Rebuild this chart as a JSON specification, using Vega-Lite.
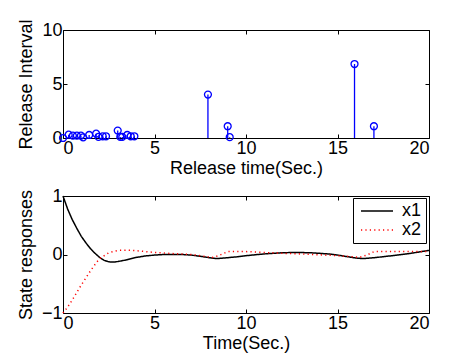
{
  "$schema": "https://vega.github.io/schema/vega-lite/v6.json",
  "background": "white",
  "padding": {"left": 16, "top": 18, "right": 5, "bottom": 2},
  "spacing": 8,
  "config": {
    "font": "Liberation Sans",
    "view": {"stroke": "black", "strokeWidth": 1},
    "axis": {
      "labelFont": "Liberation Sans", "titleFont": "Liberation Sans",
      "labelFontSize": 18, "titleFontSize": 18, "titleFontWeight": "normal",
      "labelColor": "black", "titleColor": "black",
      "domain": false, "grid": false, "tickColor": "black", "tickSize": -4,
      "labelPadding": 5, "tickWidth": 1, "labelOverlap": false
    },
    "legend": {"labelFont": "Liberation Sans", "labelFontSize": 18, "labelColor": "black"}
  },
  "datasets": {
    "rel": [
      {"t": 0, "v": 0}, {"t": 0.31, "v": 0.31}, {"t": 0.54, "v": 0.22}, {"t": 0.76, "v": 0.22},
      {"t": 0.98, "v": 0.22}, {"t": 1.1, "v": 0.06}, {"t": 1.43, "v": 0.28}, {"t": 1.81, "v": 0.4},
      {"t": 1.94, "v": 0.1}, {"t": 2.17, "v": 0.16}, {"t": 2.35, "v": 0.16}, {"t": 2.99, "v": 0.69},
      {"t": 3.13, "v": 0.1}, {"t": 3.24, "v": 0.1}, {"t": 3.51, "v": 0.28}, {"t": 3.7, "v": 0.16},
      {"t": 3.9, "v": 0.16}, {"t": 7.92, "v": 4.02}, {"t": 9.0, "v": 1.09}, {"t": 9.11, "v": 0.08},
      {"t": 15.93, "v": 6.85}, {"t": 16.99, "v": 1.09}
    ],
    "states": [
      {"t": 0, "y": 1.0, "s": "x1"}, {"t": 0.25, "y": 0.78, "s": "x1"}, {"t": 0.5, "y": 0.6, "s": "x1"},
      {"t": 0.75, "y": 0.45, "s": "x1"}, {"t": 1.0, "y": 0.31, "s": "x1"}, {"t": 1.25, "y": 0.2, "s": "x1"},
      {"t": 1.5, "y": 0.1, "s": "x1"}, {"t": 1.75, "y": 0.02, "s": "x1"}, {"t": 2.0, "y": -0.05, "s": "x1"},
      {"t": 2.25, "y": -0.1, "s": "x1"}, {"t": 2.5, "y": -0.125, "s": "x1"}, {"t": 2.75, "y": -0.13, "s": "x1"},
      {"t": 3.0, "y": -0.12, "s": "x1"}, {"t": 3.5, "y": -0.09, "s": "x1"}, {"t": 4.0, "y": -0.05, "s": "x1"},
      {"t": 4.5, "y": -0.025, "s": "x1"}, {"t": 5.0, "y": -0.01, "s": "x1"}, {"t": 5.5, "y": 0.0, "s": "x1"},
      {"t": 6.5, "y": 0.0, "s": "x1"}, {"t": 7.0, "y": -0.01, "s": "x1"}, {"t": 7.5, "y": -0.03, "s": "x1"},
      {"t": 8.0, "y": -0.055, "s": "x1"}, {"t": 8.4, "y": -0.07, "s": "x1"}, {"t": 8.8, "y": -0.06, "s": "x1"},
      {"t": 9.5, "y": -0.04, "s": "x1"}, {"t": 10, "y": -0.02, "s": "x1"}, {"t": 11, "y": 0.01, "s": "x1"},
      {"t": 12, "y": 0.03, "s": "x1"}, {"t": 12.7, "y": 0.035, "s": "x1"}, {"t": 13.5, "y": 0.03, "s": "x1"},
      {"t": 14.5, "y": 0.01, "s": "x1"}, {"t": 15.0, "y": -0.01, "s": "x1"}, {"t": 15.5, "y": -0.035, "s": "x1"},
      {"t": 16.0, "y": -0.06, "s": "x1"}, {"t": 16.4, "y": -0.07, "s": "x1"}, {"t": 17, "y": -0.055, "s": "x1"},
      {"t": 18, "y": -0.02, "s": "x1"}, {"t": 19, "y": 0.02, "s": "x1"}, {"t": 20, "y": 0.07, "s": "x1"},
      {"t": 0, "y": -1.0, "s": "x2"}, {"t": 0.25, "y": -0.9, "s": "x2"}, {"t": 0.5, "y": -0.78, "s": "x2"},
      {"t": 0.75, "y": -0.65, "s": "x2"}, {"t": 1.0, "y": -0.52, "s": "x2"}, {"t": 1.25, "y": -0.4, "s": "x2"},
      {"t": 1.5, "y": -0.28, "s": "x2"}, {"t": 1.75, "y": -0.17, "s": "x2"}, {"t": 2.0, "y": -0.07, "s": "x2"},
      {"t": 2.5, "y": 0.03, "s": "x2"}, {"t": 3.0, "y": 0.07, "s": "x2"}, {"t": 3.5, "y": 0.075, "s": "x2"},
      {"t": 4.0, "y": 0.065, "s": "x2"}, {"t": 5.0, "y": 0.035, "s": "x2"}, {"t": 6.0, "y": 0.015, "s": "x2"},
      {"t": 7.0, "y": 0.0, "s": "x2"}, {"t": 7.5, "y": -0.02, "s": "x2"}, {"t": 7.92, "y": -0.04, "s": "x2"},
      {"t": 8.2, "y": -0.05, "s": "x2"}, {"t": 8.5, "y": -0.02, "s": "x2"}, {"t": 9.0, "y": 0.05, "s": "x2"},
      {"t": 10, "y": 0.05, "s": "x2"}, {"t": 11, "y": 0.035, "s": "x2"}, {"t": 12, "y": 0.02, "s": "x2"},
      {"t": 13, "y": 0.01, "s": "x2"}, {"t": 14, "y": -0.005, "s": "x2"}, {"t": 15, "y": -0.02, "s": "x2"},
      {"t": 15.9, "y": -0.04, "s": "x2"}, {"t": 16.2, "y": -0.05, "s": "x2"}, {"t": 16.6, "y": -0.01, "s": "x2"},
      {"t": 17, "y": 0.05, "s": "x2"}, {"t": 18, "y": 0.05, "s": "x2"}, {"t": 19, "y": 0.05, "s": "x2"},
      {"t": 20, "y": 0.05, "s": "x2"}
    ]
  },
  "vconcat": [
    {
      "width": 366, "height": 108,
      "data": {"name": "rel"},
      "resolve": {"axis": {"x": "independent", "y": "independent"}},
      "layer": [
        {
          "mark": {"type": "rule", "color": "#0000ff", "strokeWidth": 1.3},
          "encoding": {
            "x": {"field": "t", "type": "quantitative", "scale": {"domain": [0, 20], "nice": false},
                  "axis": {"title": "Release time(Sec.)", "values": [0, 5, 10, 15, 20], "titlePadding": 2}},
            "y": {"field": "v", "type": "quantitative", "scale": {"domain": [0, 10], "nice": false},
                  "axis": {"title": "Release Interval", "values": [0, 5, 10], "titlePadding": 6}},
            "y2": {"datum": 0}
          }
        },
        {
          "mark": {"type": "point", "shape": "circle", "filled": false, "color": "#0000ff", "size": 48, "strokeWidth": 1.3, "opacity": 1},
          "encoding": {
            "x": {"field": "t", "type": "quantitative",
                  "axis": {"orient": "top", "values": [0, 5, 10, 15, 20], "labels": false, "title": null}},
            "y": {"field": "v", "type": "quantitative",
                  "axis": {"orient": "right", "values": [0, 5, 10], "labels": false, "title": null}}
          }
        }
      ]
    },
    {
      "width": 366, "height": 117,
      "data": {"name": "states"},
      "resolve": {"axis": {"x": "independent", "y": "independent"}},
      "layer": [
        {
          "mark": {"type": "line", "strokeWidth": 1.5},
          "encoding": {
            "x": {"field": "t", "type": "quantitative", "scale": {"domain": [0, 20], "nice": false},
                  "axis": {"title": "Time(Sec.)", "values": [0, 5, 10, 15, 20], "titlePadding": 2}},
            "y": {"field": "y", "type": "quantitative", "scale": {"domain": [-1, 1], "nice": false},
                  "axis": {"title": "State responses", "values": [-1, 0, 1], "format": ".0f", "titlePadding": 6}},
            "color": {"field": "s", "type": "nominal", "scale": {"domain": ["x1", "x2"], "range": ["#000000", "#ff0000"]},
                      "legend": {"title": null, "orient": "none", "legendX": 290, "legendY": 168, "strokeColor": "black", "fillColor": "white",
                                 "padding": 4, "symbolType": "M-1,0H5.4", "symbolSize": 100, "symbolStrokeWidth": 1.5,
                                 "rowPadding": 1, "labelOffset": 27}},
            "strokeDash": {"field": "s", "type": "nominal", "scale": {"domain": ["x1", "x2"], "range": [[1, 0], [1.2, 3.2]]},
                           "legend": {"title": null, "orient": "none", "legendX": 290, "legendY": 168}}
          }
        },
        {
          "mark": {"type": "point", "opacity": 0},
          "encoding": {
            "x": {"field": "t", "type": "quantitative",
                  "axis": {"orient": "top", "values": [0, 5, 10, 15, 20], "labels": false, "title": null}},
            "y": {"field": "y", "type": "quantitative",
                  "axis": {"orient": "right", "values": [-1, 0, 1], "labels": false, "title": null}}
          }
        }
      ]
    }
  ]
}
